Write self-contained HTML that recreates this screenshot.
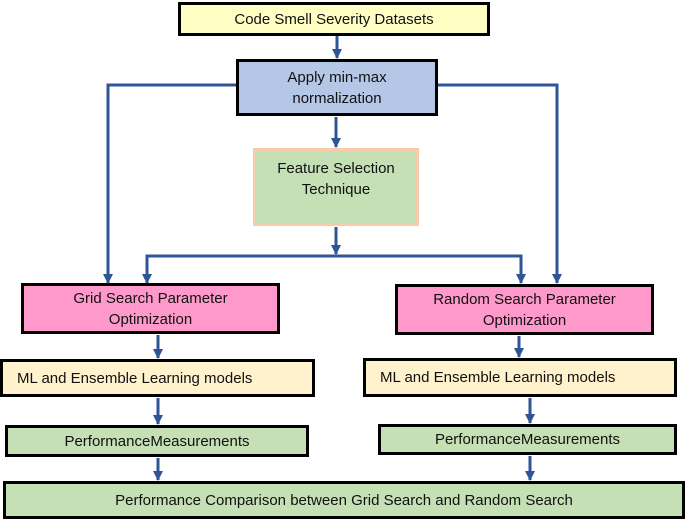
<!DOCTYPE html>
<html><head><style>
body{margin:0;width:685px;height:521px;background:#fff;position:relative;overflow:hidden;font-family:"Liberation Sans",Arial,sans-serif;}
.b{position:absolute;box-sizing:border-box;border:3px solid #000;display:flex;align-items:center;justify-content:center;text-align:center;font-size:15px;color:#111;line-height:21px;}
svg{position:absolute;left:0;top:0;}
</style></head><body>
<div class="b" style="left:178px;top:2px;width:312px;height:34px;background:#ffffc4;">Code Smell Severity Datasets</div>
<div class="b" style="left:236px;top:59px;width:202px;height:57px;background:#b4c7e7;">Apply min-max<br>normalization</div>
<div class="b" style="left:253px;top:148px;width:166px;height:78px;background:#c5e0b4;border-color:#f8cbad;align-items:flex-start;padding-top:7px;">Feature Selection<br>Technique</div>
<div class="b" style="left:21px;top:283px;width:259px;height:51px;background:#ff99cc;">Grid Search Parameter<br>Optimization</div>
<div class="b" style="left:395px;top:284px;width:259px;height:51px;background:#ff99cc;">Random Search Parameter<br>Optimization</div>
<div class="b" style="left:0;top:359px;width:315px;height:38px;background:#fff2cc;justify-content:flex-start;padding-left:14px;">ML and Ensemble Learning models</div>
<div class="b" style="left:363px;top:358px;width:314px;height:39px;background:#fff2cc;justify-content:flex-start;padding-left:14px;">ML and Ensemble Learning models</div>
<div class="b" style="left:5px;top:425px;width:304px;height:32px;background:#c5e0b4;">PerformanceMeasurements</div>
<div class="b" style="left:378px;top:424px;width:299px;height:31px;background:#c5e0b4;">PerformanceMeasurements</div>
<div class="b" style="left:3px;top:481px;width:682px;height:38px;background:#c5e0b4;">Performance Comparison between Grid Search and Random Search</div>
<svg width="685" height="521">
<defs><marker id="a" markerWidth="10" markerHeight="10" refX="9" refY="5" orient="auto" markerUnits="userSpaceOnUse" viewBox="0 0 10 10"><path d="M0,0L10,5L0,10z" fill="#2f5597"/></marker></defs>
<g stroke="#2f5597" stroke-width="3" fill="none">
<path d="M337 36V58" marker-end="url(#a)"/>
<path d="M336 117V147" marker-end="url(#a)"/>
<path d="M336 227V254"  marker-end="url(#a)"/>
<path d="M236 85H108V283" marker-end="url(#a)"/>
<path d="M438 85H557V283" marker-end="url(#a)"/>
<path d="M147 283V256H521V283" marker-end="url(#a)"/>
<path d="M147 256V283" marker-end="url(#a)"/>
<path d="M158 335V358" marker-end="url(#a)"/>
<path d="M519 336V357" marker-end="url(#a)"/>
<path d="M158 398V424" marker-end="url(#a)"/>
<path d="M530 398V423" marker-end="url(#a)"/>
<path d="M158 458V480" marker-end="url(#a)"/>
<path d="M530 456V480" marker-end="url(#a)"/>
</g></svg>
</body></html>
